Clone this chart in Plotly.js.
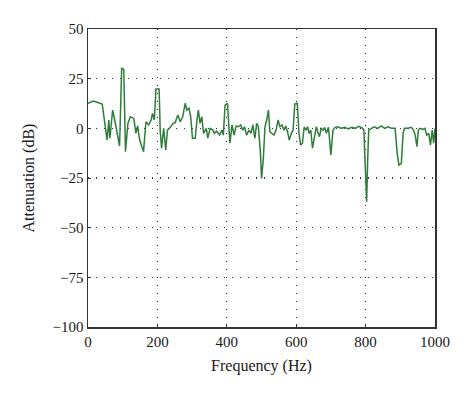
<!DOCTYPE html>
<html>
<head>
<meta charset="utf-8">
<script src="https://cdn.plot.ly/plotly-3.0.1.min.js"></script>
<style>html,body{margin:0;padding:0;background:#fff;}#chart{width:474px;height:397px;}</style>
</head>
<body>
<div id="chart"></div>
<script>
const freq = [0,15,26,41,55,60,63,71,77,81,91,97,103,108,115,122,132,138,143,149,160,167,175,182,186,191,196,205,208,212,218,224,229,237,245,251,259,266,273,280,285,291,296,301,309,314,318,323,328,333,341,345,352,360,364,371,379,386,390,395,402,406,409,415,421,427,433,440,446,451,457,464,470,475,481,486,491,497,500,505,510,515,520,524,530,536,542,548,553,559,565,570,575,580,586,591,596,603,608,613,618,623,628,633,637,642,647,653,658,662,667,672,678,682,687,693,700,706,712,720,730,740,750,760,770,780,790,795,799,803,806,809,817,825,835,845,855,865,875,885,891,896,903,908,912,922,932,938,943,948,952,957,965,971,976,982,987,992,996,1000];
const atten = [12.6,13.7,13.1,12.2,-5.9,4.2,-5,9.2,4.2,0.8,-8.9,30.2,29.7,-11.8,2.5,5.8,5,-2.5,1.2,-5.9,-11.8,3.3,1.7,4.2,7.5,4.2,19.8,19.8,-0.9,-10,0,-10.9,-0.9,0.5,2.5,2.8,6.7,3.3,5.8,12.6,9.2,10.1,5.8,-5,-5,4.2,9.2,2.5,5.8,-2.5,0,-5,0,-0.9,-2.5,-1.4,-3.4,-0.9,-3.4,11.7,12.6,0.8,-7.5,1.7,-3.4,1.2,0.8,1.7,-0.9,0.8,-3.4,-0.9,-2.5,1.7,-5,2.5,0.8,-12.6,-25.2,-16,0.8,4.2,9.2,-1.7,-2.5,-3.4,-0.9,4.2,0.8,1.7,-0.9,1.2,-1.7,-5.9,-2.5,-0.9,12.2,12.6,-2.5,-8.4,-7.5,0.8,-0.9,0.8,-2.5,-0.9,-10,-3.4,0.8,-1.7,-4.2,0,-0.9,0.5,-2.5,0.5,-13.4,-0.9,0.5,0.8,0,0.5,-0.3,0.5,0,1,0.2,-0.9,-17.6,-36.9,-16,-0.9,0,0.8,0,1.2,0,0.8,0,0,-12.6,-18.5,-17.6,-2.5,0,0,0.5,-0.9,-3.4,-9.2,-0.9,0,-0.5,0,-3.4,-2.5,-8.4,-0.9,-7.5,0];

const font = {family: '"Liberation Serif", "DejaVu Serif", serif', color: '#1a1a1a', size: 15};
const gridStyle = {showgrid: true, gridcolor: '#333', griddash: '1px,7px', gridwidth: 1.3,
  showline: true, mirror: true, linecolor: '#333', linewidth: 1.5, zeroline: false,
  ticks: 'inside', ticklen: 3, tickcolor: '#333'};

const data = [{x: freq, y: atten, type: 'scatter', mode: 'lines',
  line: {color: '#2f7d3a', width: 1.5}}];
const layout = {
  width: 474, height: 397,
  margin: {l: 88, r: 39, t: 29, b: 70},
  paper_bgcolor: '#fff', plot_bgcolor: '#fff',
  font: font, showlegend: false,
  xaxis: Object.assign({}, gridStyle, {range: [0, 1000], tickvals: [0,200,400,600,800,1000],
    title: {text: 'Frequency (Hz)', font: {size: 16}, standoff: 11}}),
  yaxis: Object.assign({}, gridStyle, {range: [-100, 50], tickvals: [-100,-75,-50,-25,0,25,50],
    title: {text: 'Attenuation (dB)', font: {size: 16}, standoff: 14}})
};
Plotly.newPlot('chart', data, layout, {displayModeBar: false, staticPlot: true});
</script>
</body>
</html>
